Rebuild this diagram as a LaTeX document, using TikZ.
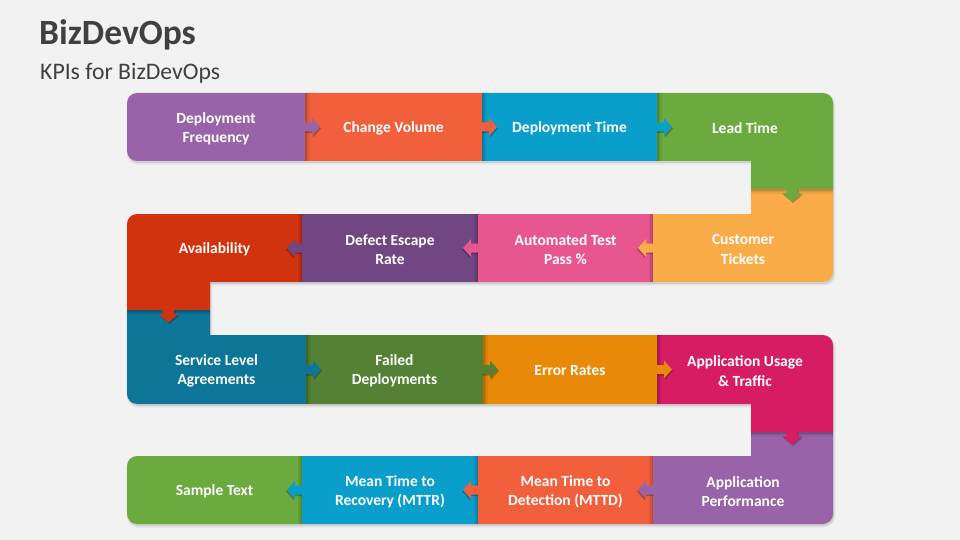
\documentclass[tikz,border=0pt]{standalone}
\usepackage{fontspec}
\setmainfont{Carlito}
\definecolor{bg}{HTML}{F2F2F2}
\definecolor{cTitle}{HTML}{404040}
\definecolor{cPurple}{HTML}{9863A8}
\definecolor{cOrange}{HTML}{F15F3C}
\definecolor{cBlue}{HTML}{0A9FCB}
\definecolor{cGreen}{HTML}{6AAA3F}
\definecolor{cYellow}{HTML}{F9AC48}
\definecolor{cPink}{HTML}{E8568F}
\definecolor{cPlum}{HTML}{714783}
\definecolor{cRed}{HTML}{D2330F}
\definecolor{cTeal}{HTML}{0C7598}
\definecolor{cDkGreen}{HTML}{548133}
\definecolor{cAmber}{HTML}{E98908}
\definecolor{cMagenta}{HTML}{D61D63}
\newcommand\snakepath{(127,103) arc[start angle=180,end angle=270,radius=10] -- (823,93) arc[start angle=270,end angle=360,radius=10] -- (833,272) arc[start angle=0,end angle=90,radius=10] -- (210,282) -- (210,335) -- (823,335) arc[start angle=270,end angle=360,radius=10] -- (833,514) arc[start angle=0,end angle=90,radius=10] -- (137,524) arc[start angle=90,end angle=180,radius=10] -- (127,466) arc[start angle=180,end angle=270,radius=10] -- (751,456) -- (751,404) -- (137,404) arc[start angle=90,end angle=180,radius=10] -- (127,224) arc[start angle=180,end angle=270,radius=10] -- (751,214) -- (751,161) -- (137,161) arc[start angle=90,end angle=180,radius=10] -- cycle}
% boundary shadows: right flow, left flow, down flow
\newcommand\shR[3]{%
  \fill[black,opacity=.22] (#1,#2) rectangle (#1+1.5,#3);
  \fill[black,opacity=.12] (#1+1.5,#2) rectangle (#1+3,#3);
  \fill[black,opacity=.05] (#1+3,#2) rectangle (#1+4.5,#3);}
\newcommand\shL[3]{%
  \fill[black,opacity=.22] (#1,#2) rectangle (#1-1.5,#3);
  \fill[black,opacity=.12] (#1-1.5,#2) rectangle (#1-3,#3);
  \fill[black,opacity=.05] (#1-3,#2) rectangle (#1-4.5,#3);}
\newcommand\shD[3]{%
  \fill[black,opacity=.22] (#2,#1) rectangle (#3,#1+1.5);
  \fill[black,opacity=.12] (#2,#1+1.5) rectangle (#3,#1+3);
  \fill[black,opacity=.05] (#2,#1+3) rectangle (#3,#1+4.5);}
\tikzset{
  lbl/.style={text=white, font=\fontsize{15.5}{19.3}\selectfont\bfseries, align=center, inner sep=0pt, yshift=-1.5pt},
  arrR/.pic={
    \fill[black,opacity=.25,shift={(1,1.5)}] (-1,-4.5) -- (7,-4.5) -- (7,-9) -- (15,0) -- (7,9) -- (7,4.5) -- (-1,4.5) -- cycle;
    \fill[#1] (-1,-4.5) -- (7,-4.5) -- (7,-9) -- (15,0) -- (7,9) -- (7,4.5) -- (-1,4.5) -- cycle;},
  arrL/.pic={
    \fill[black,opacity=.25,shift={(-1,1.5)}] (1,-4.5) -- (-7,-4.5) -- (-7,-9) -- (-15,0) -- (-7,9) -- (-7,4.5) -- (1,4.5) -- cycle;
    \fill[#1] (1,-4.5) -- (-7,-4.5) -- (-7,-9) -- (-15,0) -- (-7,9) -- (-7,4.5) -- (1,4.5) -- cycle;},
  arrD/.pic={
    \fill[black,opacity=.25,shift={(1,1.5)}] (-5.5,-1) -- (5.5,-1) -- (5.5,4) -- (10,4) -- (0,12.5) -- (-10,4) -- (-5.5,4) -- cycle;
    \fill[#1] (-5.5,-1) -- (5.5,-1) -- (5.5,4) -- (10,4) -- (0,12.5) -- (-10,4) -- (-5.5,4) -- cycle;}
}
\begin{document}
\begin{tikzpicture}[x=1pt,y=-1pt]
\useasboundingbox (0,0) rectangle (960,540);
\fill[bg] (0,0) rectangle (960,540);
% title
\node[anchor=base west, inner sep=0pt, text=cTitle, font=\fontsize{35.5}{40}\selectfont\bfseries] (title) at (39,45) {BizDevOps};
\node[anchor=base west, inner sep=0pt, text=cTitle, font=\fontsize{23.7}{28}\selectfont] (subtitle) at (40,80) {KPIs for BizDevOps};
% soft shadow of the snake
\begin{scope}[shift={(1,2)}]
  \fill[black,opacity=.10] \snakepath;
  \draw[black,opacity=.05,line width=3pt] \snakepath;
\end{scope}
% boundary coordinates
\coordinate (r1a) at (305,127); \coordinate (r1b) at (482,127); \coordinate (r1c) at (657,127);
\coordinate (d1) at (792,189);
\coordinate (r2a) at (653,248); \coordinate (r2b) at (478,248); \coordinate (r2c) at (302,248);
\coordinate (d2) at (168.5,310);
\coordinate (r3a) at (306,369.5); \coordinate (r3b) at (483,369.5); \coordinate (r3c) at (657,369.5);
\coordinate (d3) at (792,432);
\coordinate (r4a) at (653,490); \coordinate (r4b) at (478,490); \coordinate (r4c) at (302,490);
\begin{scope}
  \clip \snakepath;
  % row 1
  \fill[cPurple] (120,90) rectangle (305,165);
  \fill[cOrange] (305,90) rectangle (482,165);
  \fill[cBlue] (482,90) rectangle (657,165);
  \fill[cGreen] (657,90) rectangle (840,189);
  % row 2
  \fill[cYellow] (653,189) rectangle (840,285);
  \fill[cPink] (478,210) rectangle (653,285);
  \fill[cPlum] (302,210) rectangle (478,285);
  \fill[cRed] (120,210) rectangle (302,310);
  % row 3
  \fill[cTeal] (120,310) rectangle (306,410);
  \fill[cDkGreen] (306,330) rectangle (483,410);
  \fill[cAmber] (483,330) rectangle (657,410);
  \fill[cMagenta] (657,330) rectangle (840,432);
  % row 4
  \fill[cPurple] (653,432) rectangle (840,530);
  \fill[cOrange] (478,450) rectangle (653,530);
  \fill[cBlue] (302,450) rectangle (478,530);
  \fill[cGreen] (120,450) rectangle (302,530);
  % shadows cast across boundaries
  \shR{305}{93}{161} \shR{482}{93}{161} \shR{657}{93}{161}
  \shD{189}{751}{833}
  \shL{653}{214}{282} \shL{478}{214}{282} \shL{302}{214}{282}
  \shD{310}{127}{210}
  \shR{306}{335}{404} \shR{483}{335}{404} \shR{657}{335}{404}
  \shD{432}{751}{833}
  \shL{653}{456}{524} \shL{478}{456}{524} \shL{302}{456}{524}
  % arrows
  \pic at (r1a) {arrR=cPurple};
  \pic at (r1b) {arrR=cOrange};
  \pic at (r1c) {arrR=cBlue};
  \pic at (d1) {arrD=cGreen};
  \pic at (r2a) {arrL=cYellow};
  \pic at (r2b) {arrL=cPink};
  \pic at (r2c) {arrL=cPlum};
  \pic at (d2) {arrD=cRed};
  \pic at (r3a) {arrR=cTeal};
  \pic at (r3b) {arrR=cDkGreen};
  \pic at (r3c) {arrR=cAmber};
  \pic at (d3) {arrD=cMagenta};
  \pic at (r4a) {arrL=cPurple};
  \pic at (r4b) {arrL=cOrange};
  \pic at (r4c) {arrL=cBlue};
\end{scope}
% labels
\node[lbl] (df) at (216,127) {Deployment\\Frequency};
\node[lbl] (cv) at (393.5,127) {Change Volume};
\node[lbl] (dt) at (569.5,127) {Deployment Time};
\node[lbl] (lt) at (745,127) {Lead Time};
\node[lbl] (ct) at (743,248) {Customer\\Tickets};
\node[lbl] (atp) at (565.5,248) {Automated Test\\Pass \%};
\node[lbl] (der) at (390,248) {Defect Escape\\Rate};
\node[lbl] (av) at (214.5,248) {Availability};
\node[lbl] (sla) at (216.5,369.5) {Service Level\\Agreements};
\node[lbl] (fd) at (394.5,369.5) {Failed\\Deployments};
\node[lbl] (er) at (570,369.5) {Error Rates};
\node[lbl] (au) at (745,369.5) {Application Usage\\\& Traffic};
\node[lbl] (ap) at (743,490) {Application\\Performance};
\node[lbl] (mttd) at (565.5,490) {Mean Time to\\Detection (MTTD)};
\node[lbl] (mttr) at (390,490) {Mean Time to\\Recovery (MTTR)};
\node[lbl] (st) at (214.5,490) {Sample Text};
\end{tikzpicture}
\end{document}
